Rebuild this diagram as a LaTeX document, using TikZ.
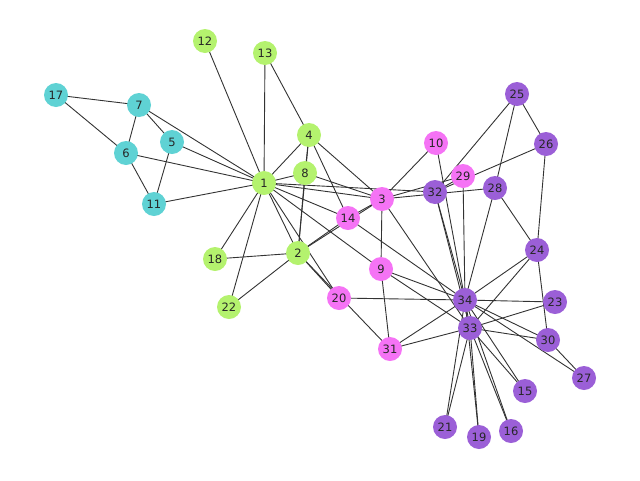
\documentclass[tikz,border=0pt]{standalone}
\usepackage{fontspec}
\setmainfont{DejaVu Sans}
\definecolor{cg}{RGB}{180,242,110}
\definecolor{cc}{RGB}{95,210,212}
\definecolor{cm}{RGB}{245,115,245}
\definecolor{cp}{RGB}{155,95,215}
\begin{document}
\begin{tikzpicture}[x=1pt,y=-1pt,
  nd/.style={circle,minimum size=24pt,inner sep=0pt,font=\fontsize{11.5}{12}\selectfont,text=black!85},
  ed/.style={draw=black!80,line width=0.9pt}]
\useasboundingbox (0,0) rectangle (640,480);
\foreach \n/\x/\y/\c in {1/264/183/cg,2/298/253/cg,3/382/199/cm,4/309/135/cg,5/172/142/cc,6/126/153/cc,7/139/105/cc,8/305/173/cg,9/381/269/cm,10/436/143/cm,11/154/204/cc,12/205/41/cg,13/265/53/cg,14/348/218/cm,15/525/391/cp,16/511/431/cp,17/56/95/cc,18/215/259/cg,19/479/437/cp,20/339/298/cm,21/445/427/cp,22/229/307/cg,23/555/302/cp,24/537/250/cp,25/517/94/cp,26/546/144/cp,27/584/378/cp,28/495/188/cp,29/463/176/cm,30/548/340/cp,31/390/349/cm,32/435/192/cp,33/470/328/cp,34/465/300/cp}
  \coordinate (c\n) at (\x,\y);
\foreach \a/\b in {1/2,1/3,1/4,1/5,1/6,1/7,1/8,1/9,1/11,1/12,1/13,1/14,1/18,1/20,1/22,1/32,
2/3,2/4,2/8,2/14,2/18,2/20,2/22,2/31,3/4,3/8,3/9,3/10,3/14,3/28,3/29,3/33,4/8,4/13,4/14,
5/7,5/11,6/7,6/11,6/17,7/17,9/31,9/33,9/34,10/34,14/34,15/33,15/34,16/33,16/34,19/33,19/34,
20/34,21/33,21/34,23/33,23/34,24/26,24/28,24/30,24/33,24/34,25/26,25/28,25/32,26/32,27/30,27/34,
28/34,29/32,29/34,30/33,30/34,31/33,31/34,32/33,32/34,33/34}
  \draw[ed] (c\a) -- (c\b);
\foreach \n/\x/\y/\c in {1/264/183/cg,2/298/253/cg,3/382/199/cm,4/309/135/cg,5/172/142/cc,6/126/153/cc,7/139/105/cc,8/305/173/cg,9/381/269/cm,10/436/143/cm,11/154/204/cc,12/205/41/cg,13/265/53/cg,14/348/218/cm,15/525/391/cp,16/511/431/cp,17/56/95/cc,18/215/259/cg,19/479/437/cp,20/339/298/cm,21/445/427/cp,22/229/307/cg,23/555/302/cp,24/537/250/cp,25/517/94/cp,26/546/144/cp,27/584/378/cp,28/495/188/cp,29/463/176/cm,30/548/340/cp,31/390/349/cm,32/435/192/cp,33/470/328/cp,34/465/300/cp}
  \node[nd,fill=\c] (n\n) at (\x,\y) {\n};
\end{tikzpicture}
\end{document}
